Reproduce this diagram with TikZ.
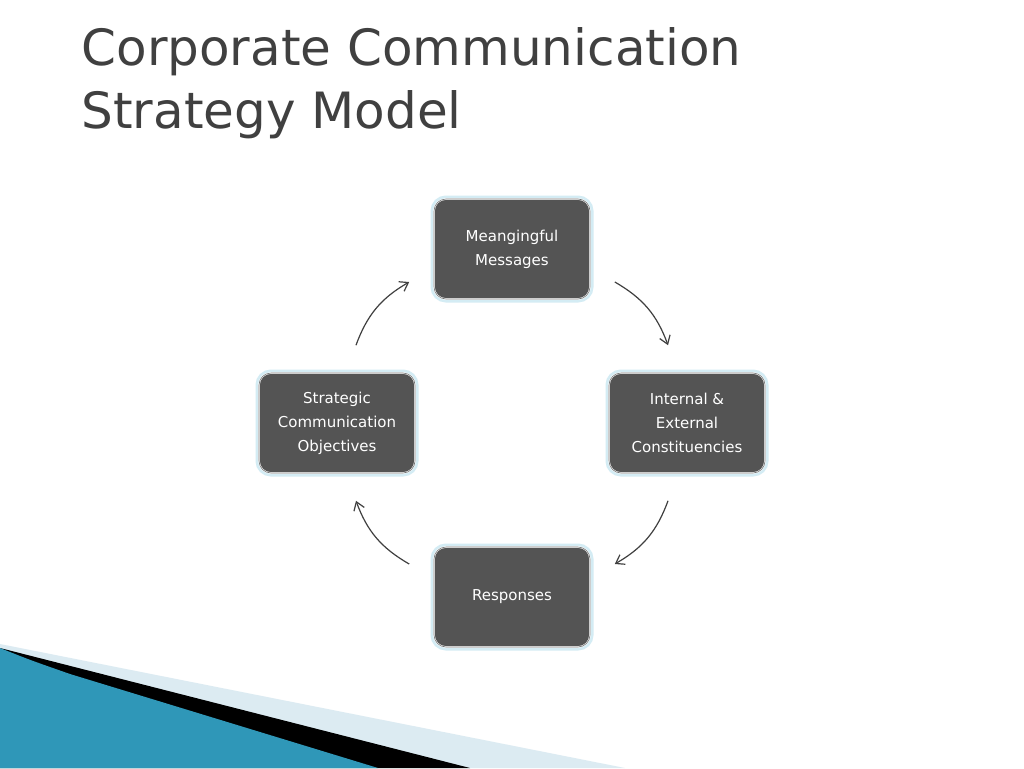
\documentclass[tikz,border=0pt]{standalone}
\usepackage{fontspec}
\setmainfont{DejaVu Sans}
\usetikzlibrary{arrows.meta}
\definecolor{boxgray}{HTML}{545454}
\definecolor{halo}{HTML}{D4ECF4}
\definecolor{deco}{HTML}{2F97B8}
\definecolor{decolight}{HTML}{DCEBF2}
\definecolor{titlegray}{HTML}{404040}
\tikzset{
  stage/.style = {
    rectangle, rounded corners=12pt, fill=boxgray, draw=white, line width=1.6pt,
    minimum width=156pt, minimum height=100pt, align=center,
    text=white, font=\fontsize{15}{24}\selectfont,
    preaction={draw=halo, line width=7pt},
    postaction={draw=black!55, line width=0.6pt}
  },
  flow/.style = {draw=black!75, line width=1.2pt, -{Straight Barb[length=8pt,width=11pt]}}
}
\begin{document}
\begin{tikzpicture}[x=1pt,y=-1pt]
  \useasboundingbox[fill=white] (0,0) rectangle (1024,768);
  % corner decoration
  \fill[decolight] (0,644) -- (625,768) -- (0,768) -- cycle;
  \fill[black] (0,648) -- (470,768) -- (0,768) -- cycle;
  \fill[deco] (0,648) .. controls (30,660) .. (70,674) -- (378,768) -- (0,768) -- cycle;
  % title
  \node[anchor=base west, text=titlegray, font=\fontsize{50}{60}\selectfont] (t1) at (78,66) {Corporate Communication};
  \node[anchor=base west, text=titlegray, font=\fontsize{50}{60}\selectfont] (t2) at (78,128) {Strategy Model};
  % cycle
  \node[stage] (mm) at (512,249) {Meangingful\\Messages};
  \node[stage] (ie) at (687,423) {Internal \&\\External\\Constituencies};
  \node[stage] (rs) at (512,597) {Responses};
  \node[stage] (sc) at (337,423) {Strategic\\Communication\\Objectives};
  \draw[flow] ([shift={(24,33)}]mm.east) to[bend left=20] ([shift={(-19,-27)}]ie.north);
  \draw[flow] ([shift={(-19,27)}]ie.south) to[bend left=20] ([shift={(24,-33)}]rs.east);
  \draw[flow] ([shift={(-24,-33)}]rs.west) to[bend left=20] ([shift={(19,27)}]sc.south);
  \draw[flow] ([shift={(19,-27)}]sc.north) to[bend left=20] ([shift={(-24,33)}]mm.west);
\end{tikzpicture}
\end{document}
